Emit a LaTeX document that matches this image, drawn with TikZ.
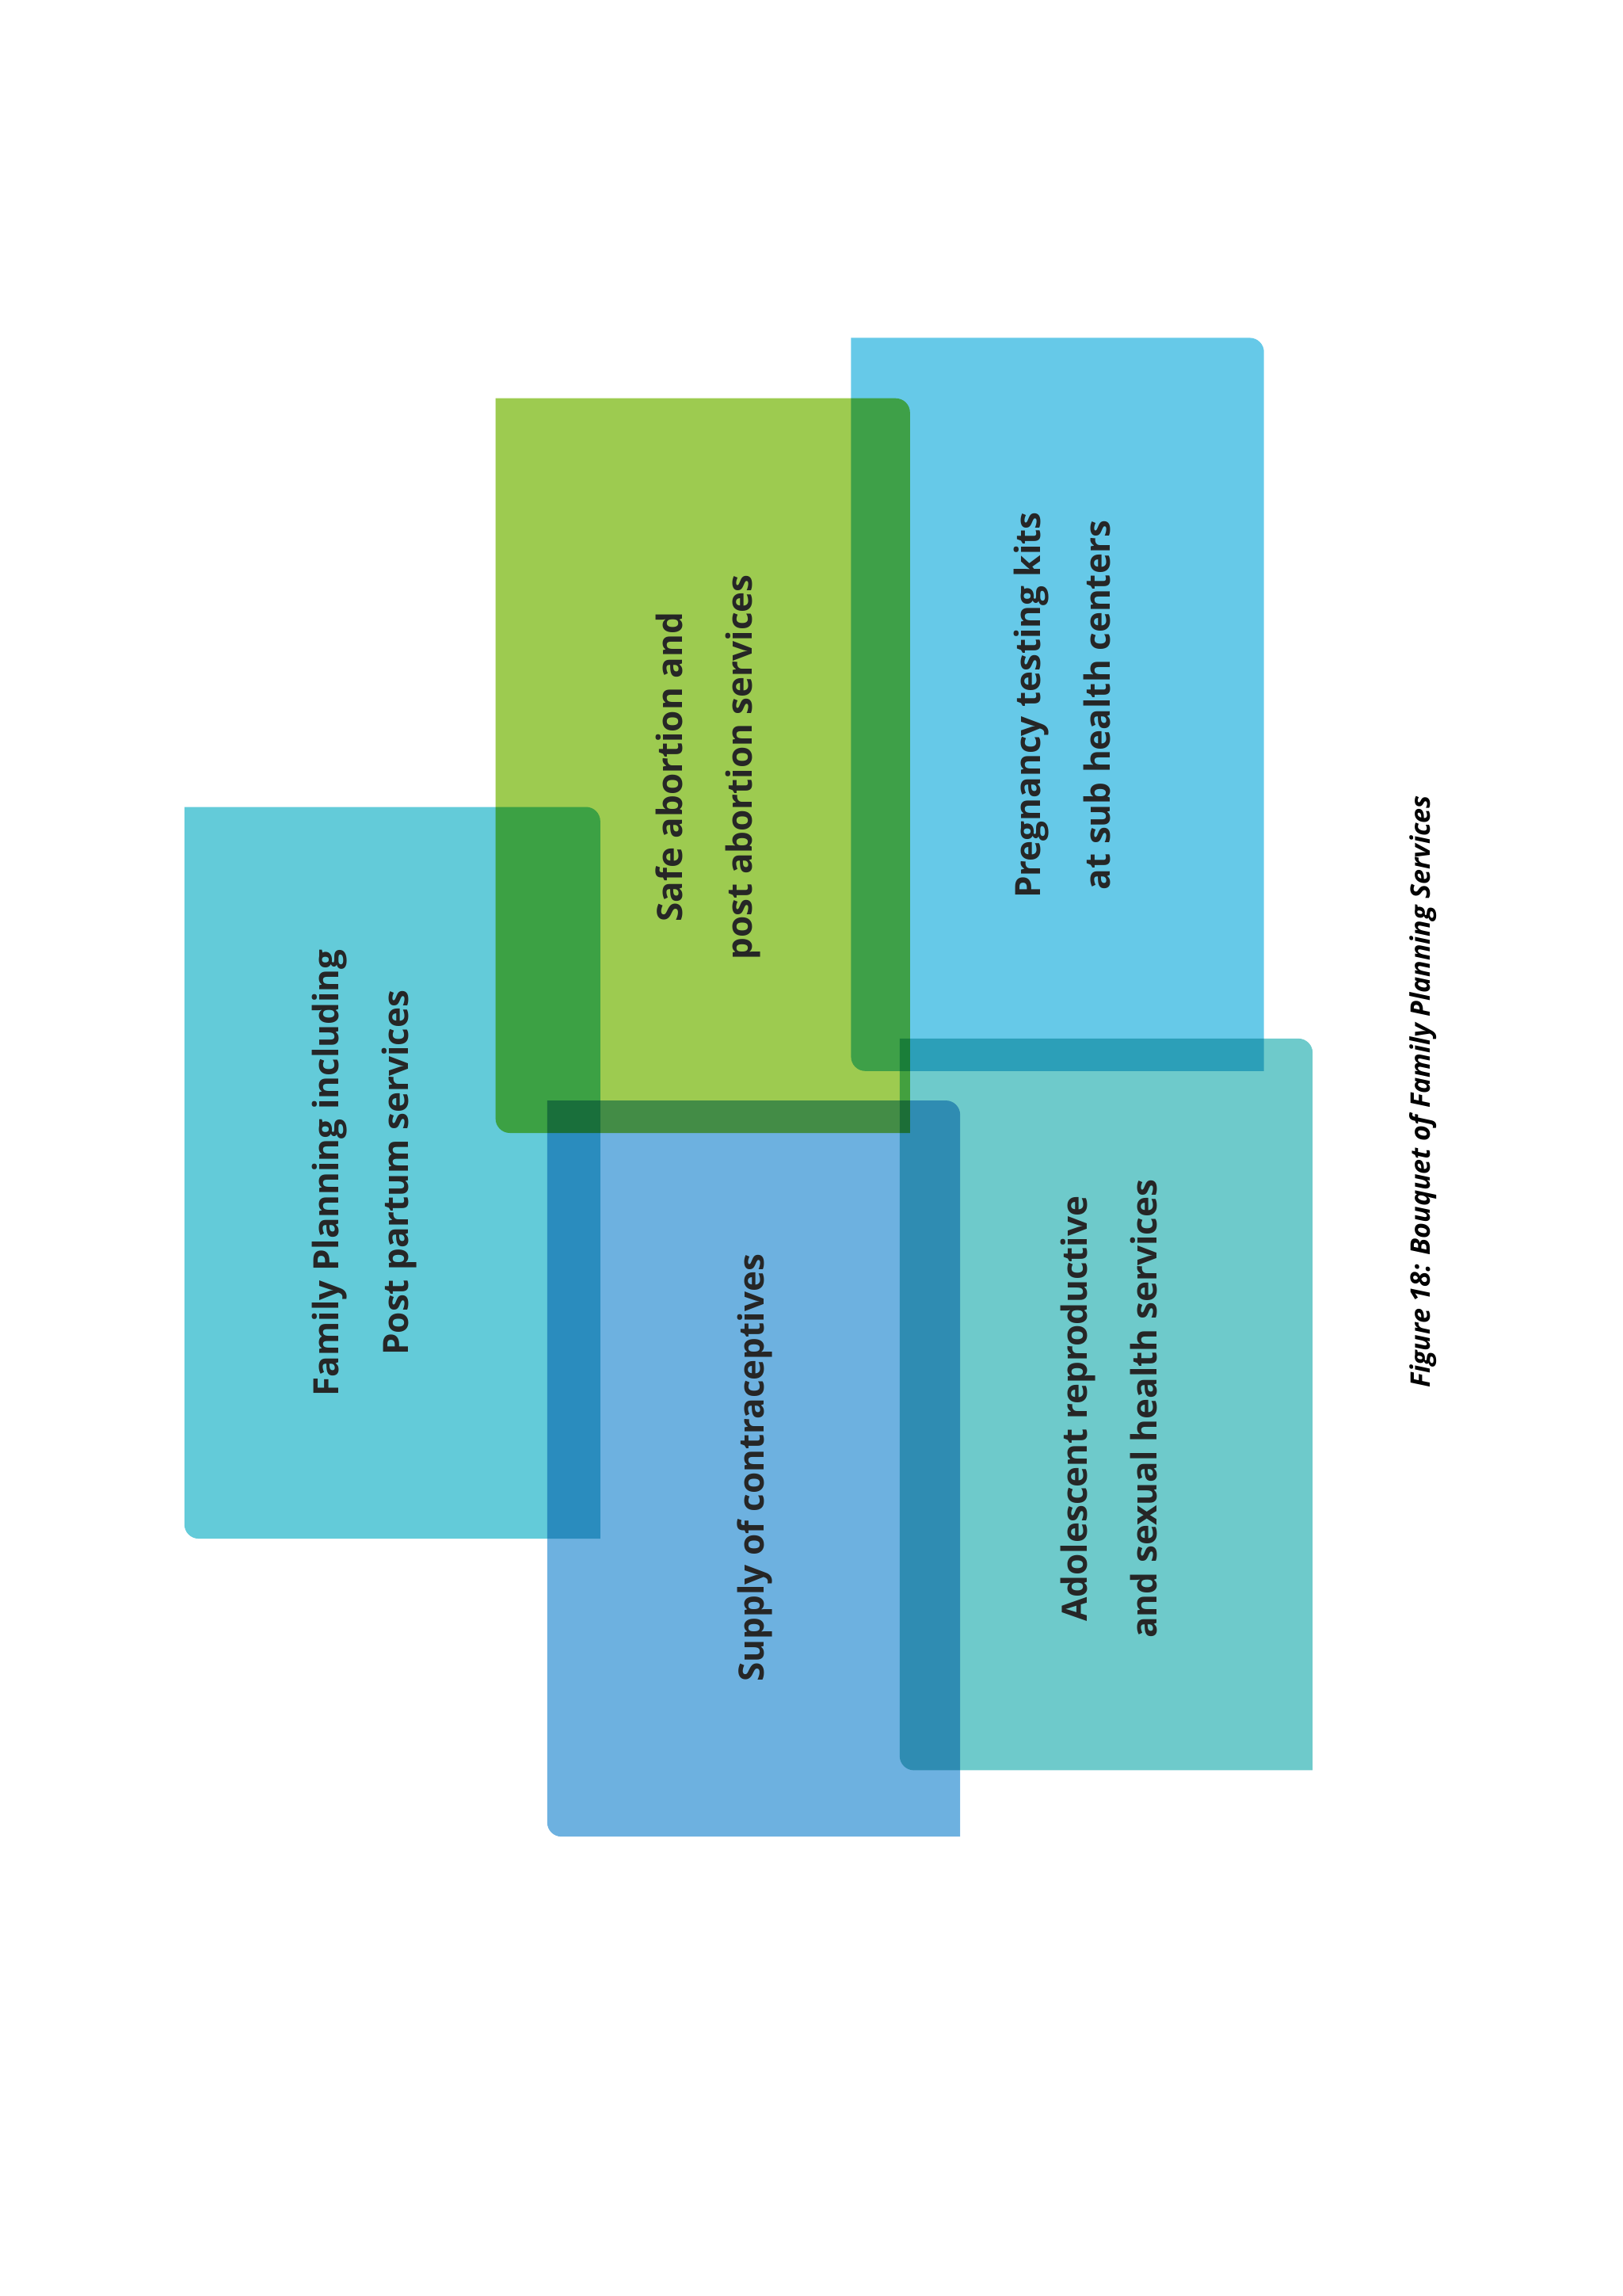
\documentclass[tikz,border=0pt]{standalone}
\usepackage{fontspec}
\setmainfont{Open Sans}
\begin{document}
\begin{tikzpicture}[x=1.862pt,y=-1.862pt,
  box/.style={rounded corners=0pt},
  lbl/.style={rotate=90,align=center,font=\fontsize{44}{88}\selectfont\bfseries,text=black!85}]
\useasboundingbox (0,0) rectangle (1100,1556.4);
\definecolor{cfp}{RGB}{99,203,217}
\definecolor{csafe}{RGB}{157,203,80}
\definecolor{cpreg}{RGB}{102,201,232}
\definecolor{csup}{RGB}{109,177,224}
\definecolor{cado}{RGB}{110,202,203}
\newcommand{\mybox}[5]{%
  \begin{scope}[blend mode=multiply]
  \fill[#5] (#1,#2) [rounded corners=0pt] -- (#3-18,#2) [rounded corners=18] -- (#3,#2) [rounded corners=0pt] -- (#3,#4) [rounded corners=18] -- (#1,#4) [rounded corners=0pt] -- cycle;
  \end{scope}}
\mybox{125}{547}{407}{1043}{cfp}
\mybox{336}{270}{617}{768}{csafe}
\mybox{577}{229}{857}{726}{cpreg}
\mybox{371}{746}{651}{1245}{csup}
\mybox{610}{704}{890}{1200}{cado}
\node[lbl] (fp) at (247,795) {Family Planning including\\Post partum services};
\node[lbl] (sa) at (480,520) {Safe abortion and\\post abortion services};
\node[lbl] (pr) at (720,478) {Pregnancy testing kits\\at sub health centers};
\node[lbl] (su) at (512,995) {Supply of contraceptives};
\node[lbl] (ad) at (752,955) {Adolescent reproductive\\and sexual health services};
\node[rotate=90,font=\fontsize{34}{40}\selectfont\bfseries\itshape] (cap) at (965,740) {Figure 18: Bouquet of Family Planning Services};
\end{tikzpicture}
\end{document}
